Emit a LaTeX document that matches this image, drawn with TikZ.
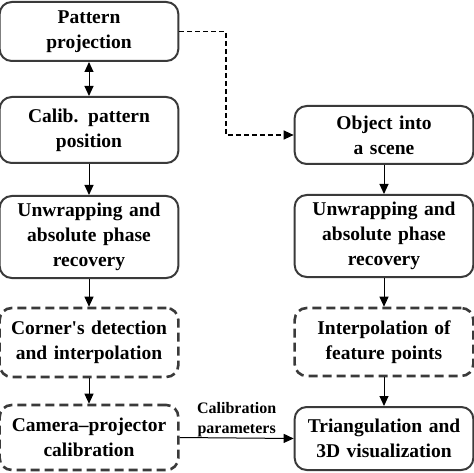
\documentclass[tikz,border=0pt]{standalone}
\usepackage{fontspec}
\setmainfont{Liberation Serif}
\usetikzlibrary{positioning}
\usetikzlibrary{arrows.meta}
\definecolor{boxgray}{HTML}{3A3A3A}
\tikzset{%
  solidarrow/.style = {-{Triangle[length=10pt,width=9pt]},line width=1pt},
  dasharrow/.style = {-{Triangle[length=10pt,width=9pt]},line width=1.2pt,
        dash pattern=on 5pt off 3pt},
  b/.style = {rectangle,rounded corners=12pt,draw=boxgray,line width=2pt,
        minimum width=174pt,text width=172pt,align=center,
        font=\fontsize{19.5}{25}\selectfont\bfseries},
  db/.style = {b,line width=2.6pt,dash pattern=on 9pt off 5pt}
}
\begin{document}
\begin{tikzpicture}[x=1pt,y=-1pt]
    \useasboundingbox (0,0) rectangle (474,473);
    % left column
    \node[b,minimum height=59pt] (proj) at (89,31.5) {Pattern\\projection};
    \node[b,minimum height=66pt] (calib) at (89,130) {Calib. pattern\\position};
    \node[b,minimum height=82pt] (unwrapL) at (89,237) {Unwrapping and\\absolute phase\\recovery};
    \node[db,minimum height=69pt] (corner) at (89,342.5) {Corner\textquotesingle s detection\\and interpolation};
    \node[db,minimum height=65pt] (camproj) at (89,437.5) {Camera--projector\\calibration};
    % right column
    \node[b,minimum height=58pt] (object) at (384,135) {Object into\\a scene};
    \node[b,minimum height=82pt] (unwrapR) at (384,236) {Unwrapping and\\absolute phase\\recovery};
    \node[db,minimum height=68pt] (interp) at (384,342) {Interpolation of\\feature points};
    \node[b,minimum height=63pt] (triang) at (384,438.5) {Triangulation and\\3D visualization};
    \coordinate (bx) at (226,0);
    \coordinate (bend1) at (proj.east -| bx);
    \coordinate (bend2) at (object.west -| bx);
    % arrows
    \draw[{Triangle[length=10pt,width=9pt]}-{Triangle[length=10pt,width=9pt]},line width=1pt] (proj) -- (calib);
    \draw[solidarrow] (calib) -- (unwrapL);
    \draw[solidarrow] (unwrapL) -- (corner);
    \draw[solidarrow] (corner) -- (camproj);
    \draw[solidarrow] (object) -- (unwrapR);
    \draw[solidarrow] (unwrapR) -- (interp);
    \draw[solidarrow] (interp) -- (triang);
    \draw[dasharrow] (proj.east) -- (bend1) -- (bend2) -- (object.west);
    \draw[solidarrow] (camproj.east) -- node[above=-3pt,align=center,
        font=\fontsize{16}{20}\selectfont\bfseries] (calparam) {Calibration\\parameters} (triang.west);
\end{tikzpicture}
\end{document}
